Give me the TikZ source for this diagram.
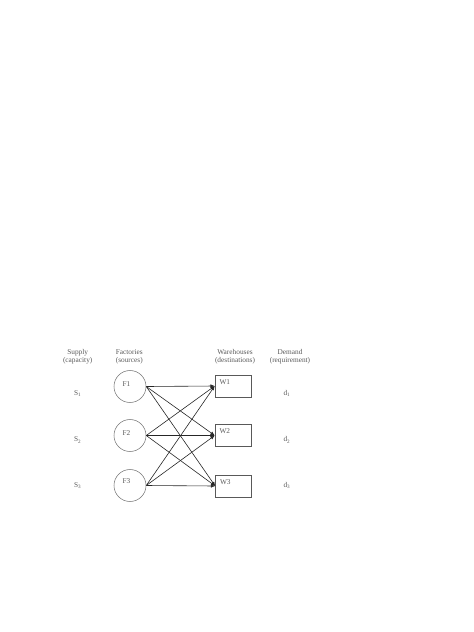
\documentclass[tikz,border=0pt]{standalone}
\usepackage{fontspec}
\setmainfont{Liberation Serif}
\usetikzlibrary{arrows.meta}
\definecolor{LineGray}{rgb}{0.15, 0.15, 0.15}
\definecolor{TextGray}{rgb}{0.35, 0.35, 0.35}

\tikzset{
	factory/.style={circle, draw=black!55, minimum size=24pt, inner sep=0pt},
	warehouse/.style={rectangle, draw=black!65, minimum width=27pt, minimum height=16.5pt, inner sep=0pt},
	flow/.style={color=LineGray, line width=0.45pt, -{Latex[length=3.2pt,width=2.6pt]}},
	lbl/.style={font=\fontsize{5.5}{6.3}\selectfont, text=TextGray, align=center, inner sep=0.75pt}
}

\begin{document}
\begin{tikzpicture}[x=0.75pt,y=0.75pt,yscale=-1,xscale=1]
	\useasboundingbox (0,0) rectangle (474,632);

	% Headers
	\draw (77.7,356.8) node [lbl] (hsup) {Supply\\(capacity)};
	\draw (129.3,356.8) node [lbl] (hfac) {Factories\\(sources)};
	\draw (235,356.8) node [lbl] (hwar) {Warehouses\\(destinations)};
	\draw (290,356.8) node [lbl] (hdem) {Demand\\(requirement)};

	% Factories
	\draw (130,386.5) node [factory] (f1) {};
	\draw (130,435.5) node [factory] (f2) {};
	\draw (130,485.5) node [factory] (f3) {};
	\draw (126.5,384.5) node [lbl] (tf1) {F1};
	\draw (126.5,433) node [lbl] (tf2) {F2};
	\draw (126.5,481) node [lbl] (tf3) {F3};

	% Warehouses
	\draw (233,386) node [warehouse] (w1) {};
	\draw (233,435.5) node [warehouse] (w2) {};
	\draw (233.5,486) node [warehouse] (w3) {};
	\draw (w1.north west) ++(3.5,3.5) node [lbl, anchor=north west] (tw1) {W1};
	\draw (w2.north west) ++(3.5,3.5) node [lbl, anchor=north west] (tw2) {W2};
	\draw (w3.north west) ++(3.5,3.5) node [lbl, anchor=north west] (tw3) {W3};

	% Supply and demand
	\draw (77.7,393.3) node [lbl] (s1) {S\textsubscript{1}};
	\draw (77.7,440) node [lbl] (s2) {S\textsubscript{2}};
	\draw (77.7,485.7) node [lbl] (s3) {S\textsubscript{3}};
	\draw (287,393.3) node [lbl] (d1) {d\textsubscript{1}};
	\draw (287,440) node [lbl] (d2) {d\textsubscript{2}};
	\draw (287,485.7) node [lbl] (d3) {d\textsubscript{3}};

	% Routes
	\foreach \f in {1,2,3}{
		\foreach \w in {1,2,3}{
			\draw [flow] (f\f.east) -- (w\w.west);
		}
	}
\end{tikzpicture}
\end{document}
